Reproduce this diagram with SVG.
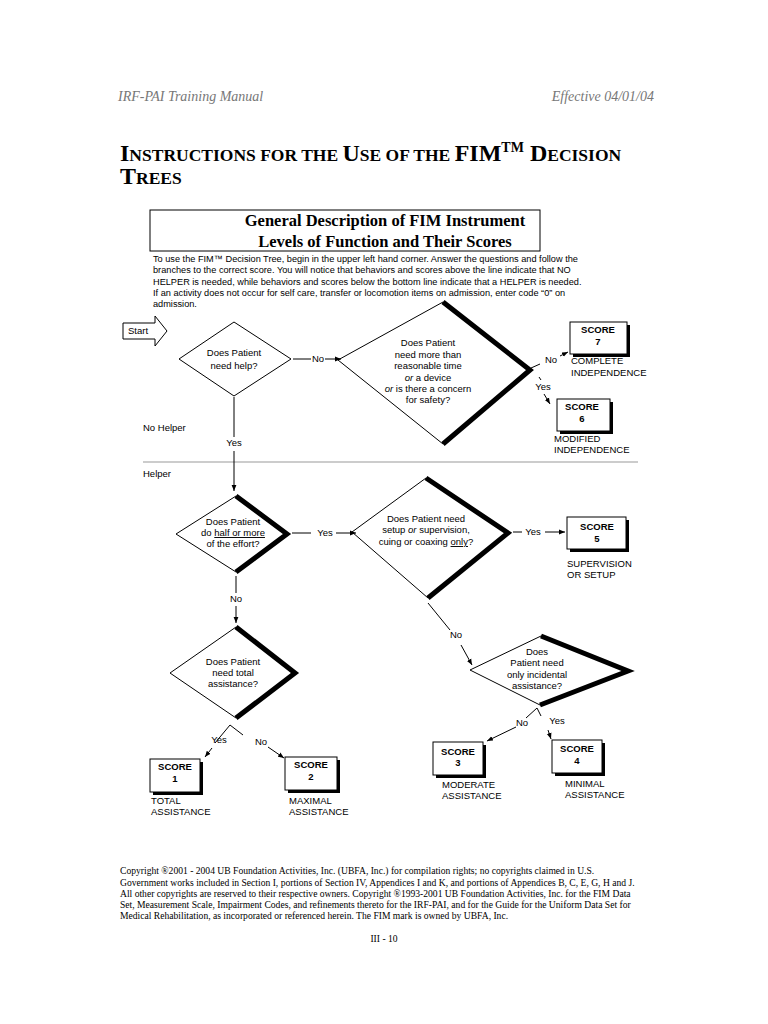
<svg xmlns="http://www.w3.org/2000/svg" width="768" height="1024" viewBox="0 0 768 1024">
<defs>
<marker id="ah" viewBox="0 0 10 10" refX="10" refY="5" markerWidth="6" markerHeight="6" orient="auto"><path d="M0,1 L10,5 L0,9 z" fill="#000"/></marker>
<style>
.s{font-family:"Liberation Sans",Arial,sans-serif;font-size:9.5px;fill:#000}
.c{text-anchor:middle}
.b{font-weight:bold}
.d{fill:#fff;stroke:#000;stroke-width:1}
.k{fill:none;stroke:#000;stroke-width:5}
.l{fill:none;stroke:#000;stroke-width:1}
.sh{fill:#000}
.bx{fill:#fff;stroke:#000;stroke-width:1}
.f{font-family:"Liberation Serif","Times New Roman",serif;font-size:9.6px;fill:#000}
.p{font-family:"Liberation Sans",Arial,sans-serif;font-size:9.2px;fill:#000}
</style>
</defs>
<rect width="768" height="1024" fill="#fff"/>
<text x="118" y="101" font-family="Liberation Serif,serif" font-style="italic" font-size="14" fill="#777">IRF-PAI Training Manual</text>
<text x="654" y="101" text-anchor="end" font-family="Liberation Serif,serif" font-style="italic" font-size="14" fill="#777">Effective 04/01/04</text>
<text x="120" y="161" font-family="Liberation Serif,serif" font-weight="bold" font-size="17.5"><tspan font-size="24">I</tspan>NSTRUCTIONS FOR THE <tspan font-size="24">U</tspan>SE OF THE <tspan font-size="24">FIM</tspan><tspan font-size="14" dy="-9">TM</tspan><tspan font-size="24" dy="9"> D</tspan>ECISION</text>
<text x="120" y="184" font-family="Liberation Serif,serif" font-weight="bold" font-size="17.5"><tspan font-size="24">T</tspan>REES</text>
<g id="header">
<rect x="150" y="210" width="390" height="41" fill="#fff" stroke="#000"/>
<text x="385" y="226" class="c" font-family="Liberation Serif,serif" font-weight="bold" font-size="16.5">General Description of FIM Instrument</text>
<text x="385" y="247" class="c" font-family="Liberation Serif,serif" font-weight="bold" font-size="16.5">Levels of Function and Their Scores</text>
<text class="p" x="153" y="262">To use the FIM™ Decision Tree, begin in the upper left hand corner.  Answer the questions and follow the</text>
<text class="p" x="153" y="273">branches to the correct score.  You will notice that behaviors and scores above the line indicate that NO</text>
<text class="p" x="153" y="285">HELPER is needed, while behaviors and scores below the bottom line indicate that a HELPER is needed.</text>
<text class="p" x="153" y="296">If an activity does not occur for self care, transfer or locomotion items on admission, enter code “0” on</text>
<text class="p" x="153" y="307">admission.</text>
</g>
<g id="start">
<path d="M123,323 H155 V316 L167,331 L155,346 V339 H123 Z" class="d"/>
<text class="s" x="138" y="334" font-size="8.5" text-anchor="middle">Start</text>
</g>
<line x1="143" y1="462" x2="638" y2="462" stroke="#999" stroke-width="1"/>
<text class="s" x="143" y="431" font-size="11.5">No Helper</text>
<text class="s" x="143" y="477" font-size="11.5">Helper</text>
<g id="q1">
<path d="M234,322 L291,359 L234,396 L179,359 Z" class="d"/>
<text class="s c" x="234" y="356">Does Patient</text>
<text class="s c" x="234" y="369">need help?</text>
</g>
<g id="q2">
<path d="M443,302 L530,370 L443,444 L338,360 Z" class="d"/>
<path d="M443,302 L530,370 L443,444" class="k"/>
<text class="s c" x="428" y="346">Does Patient</text>
<text class="s c" x="428" y="358">need more than</text>
<text class="s c" x="428" y="369">reasonable time</text>
<text class="s c" x="428" y="381"><tspan font-style="italic">or</tspan> a device</text>
<text class="s c" x="428" y="392"><tspan font-style="italic">or</tspan> is there a concern</text>
<text class="s c" x="428" y="403">for safety?</text>
</g>
<g id="q3">
<path d="M236,496 L287,534 L236,572 L176,534 Z" class="d"/>
<path d="M236,496 L287,534 L236,572" class="k" stroke-width="3"/>
<text class="s c" x="233" y="525">Does Patient</text>
<text class="s c" x="233" y="536">do <tspan text-decoration="underline">half or more</tspan></text>
<text class="s c" x="233" y="547">of the effort?</text>
</g>
<g id="q4">
<path d="M426,478 L508,533 L428,598 L352,532 Z" class="d"/>
<path d="M426,478 L508,533 L428,598" class="k" stroke-width="4"/>
<text class="s c" x="426" y="522">Does Patient need</text>
<text class="s c" x="426" y="533">setup <tspan font-style="italic">or</tspan> supervision,</text>
<text class="s c" x="426" y="545">cuing or coaxing <tspan text-decoration="underline">only</tspan>?</text>
</g>
<g id="q5">
<path d="M236,627 L295,673 L236,718 L170,673 Z" class="d"/>
<path d="M236,627 L295,673 L236,718" class="k" stroke-width="3.5"/>
<text class="s c" x="233" y="665">Does Patient</text>
<text class="s c" x="233" y="676">need total</text>
<text class="s c" x="233" y="687">assistance?</text>
</g>
<g id="q6">
<path d="M541,636 L628,671 L540,705 L470,670 Z" class="d"/>
<path d="M541,636 L628,671 L540,705" class="k" stroke-width="3.5"/>
<text class="s c" x="537" y="655">Does</text>
<text class="s c" x="537" y="666">Patient need</text>
<text class="s c" x="537" y="678">only incidental</text>
<text class="s c" x="537" y="689">assistance?</text>
</g>
<g id="s7"><rect x="573" y="325" width="57" height="32" class="sh"/><rect x="570" y="322" width="57" height="32" class="bx"/><text class="s c b" x="598" y="333">SCORE</text><text class="s c b" x="598" y="345">7</text>
<text class="s" x="571" y="364">COMPLETE</text><text class="s" x="571" y="376">INDEPENDENCE</text></g>
<g id="s6"><rect x="560" y="402" width="53" height="32" class="sh"/><rect x="557" y="399" width="53" height="32" class="bx"/><text class="s c b" x="582" y="410">SCORE</text><text class="s c b" x="582" y="422">6</text>
<text class="s" x="554" y="442">MODIFIED</text><text class="s" x="554" y="453">INDEPENDENCE</text></g>
<g id="s5"><rect x="570" y="520" width="59" height="32" class="sh"/><rect x="567" y="517" width="59" height="32" class="bx"/><text class="s c b" x="597" y="530">SCORE</text><text class="s c b" x="597" y="542">5</text>
<text class="s" x="567" y="567">SUPERVISION</text><text class="s" x="567" y="578">OR SETUP</text></g>
<g id="s1"><rect x="153" y="762" width="50" height="33" class="sh"/><rect x="150" y="759" width="50" height="33" class="bx"/><text class="s c b" x="175" y="770">SCORE</text><text class="s c b" x="175" y="782">1</text>
<text class="s" x="151" y="804">TOTAL</text><text class="s" x="151" y="815">ASSISTANCE</text></g>
<g id="s2"><rect x="288" y="760" width="52" height="33" class="sh"/><rect x="285" y="757" width="52" height="33" class="bx"/><text class="s c b" x="311" y="768">SCORE</text><text class="s c b" x="311" y="780">2</text>
<text class="s" x="289" y="804">MAXIMAL</text><text class="s" x="289" y="815">ASSISTANCE</text></g>
<g id="s3"><rect x="436" y="745" width="50" height="33" class="sh"/><rect x="433" y="742" width="50" height="33" class="bx"/><text class="s c b" x="458" y="755">SCORE</text><text class="s c b" x="458" y="766">3</text>
<text class="s" x="442" y="788">MODERATE</text><text class="s" x="442" y="799">ASSISTANCE</text></g>
<g id="s4"><rect x="555" y="743" width="50" height="33" class="sh"/><rect x="552" y="740" width="50" height="33" class="bx"/><text class="s c b" x="577" y="752">SCORE</text><text class="s c b" x="577" y="764">4</text>
<text class="s" x="565" y="787">MINIMAL</text><text class="s" x="565" y="798">ASSISTANCE</text></g>
<g id="connectors">
<line x1="293" y1="359" x2="311" y2="359" class="l"/><line x1="325" y1="359" x2="341" y2="359" class="l" marker-end="url(#ah)"/>
<text class="s c" x="318" y="362" font-size="8.5">No</text>
<line x1="531" y1="368" x2="540" y2="364" class="l"/><line x1="560" y1="356" x2="568" y2="352" class="l" marker-end="url(#ah)"/>
<text class="s c" x="551" y="363" font-size="8.5">No</text>
<line x1="539" y1="377" x2="541" y2="380" class="l"/><line x1="544" y1="394" x2="550" y2="404" class="l" marker-end="url(#ah)"/>
<text class="s c" x="543" y="390" font-size="8.5">Yes</text>
<line x1="234" y1="397" x2="234" y2="437" class="l"/><line x1="234" y1="451" x2="234" y2="491" class="l" marker-end="url(#ah)"/>
<text class="s c" x="234" y="446" font-size="8.5">Yes</text>
<line x1="292" y1="533" x2="311" y2="533" class="l"/><line x1="336" y1="533" x2="356" y2="533" class="l" marker-end="url(#ah)"/>
<text class="s c" x="325" y="536" font-size="8.5">Yes</text>
<line x1="513" y1="532" x2="522" y2="532" class="l"/><line x1="545" y1="532" x2="565" y2="532" class="l" marker-end="url(#ah)"/>
<text class="s c" x="533" y="535" font-size="8.5">Yes</text>
<line x1="236" y1="576" x2="236" y2="593" class="l"/><line x1="236" y1="606" x2="236" y2="623" class="l" marker-end="url(#ah)"/>
<text class="s c" x="236" y="602" font-size="8.5">No</text>
<line x1="428" y1="603" x2="450" y2="630" class="l"/><line x1="461" y1="645" x2="472" y2="665" class="l" marker-end="url(#ah)"/>
<text class="s c" x="456" y="638" font-size="8.5">No</text>
<path d="M215,743 L230,725 L243,735" class="l"/>
<line x1="212" y1="748" x2="205" y2="757" class="l" marker-end="url(#ah)"/>
<line x1="268" y1="747" x2="284" y2="758" class="l" marker-end="url(#ah)"/>
<text class="s c" x="219" y="743" font-size="8.5">Yes</text>
<text class="s c" x="261" y="745" font-size="8.5">No</text>
<path d="M526,718 L537,708 L541,716" class="l"/>
<line x1="516" y1="727" x2="487" y2="741" class="l" marker-end="url(#ah)"/>
<line x1="548" y1="730" x2="551" y2="739" class="l" marker-end="url(#ah)"/>
<text class="s c" x="522" y="726" font-size="8.5">No</text>
<text class="s c" x="557" y="724" font-size="8.5">Yes</text>
</g>
<text class="f" x="120" y="874">Copyright ®2001 - 2004 UB Foundation Activities, Inc. (UBFA, Inc.) for compilation rights; no copyrights claimed in U.S.</text>
<text class="f" x="120" y="886">Government works included in Section I, portions of Section IV, Appendices I and K, and portions of Appendices B, C, E, G, H and J.</text>
<text class="f" x="120" y="897">All other copyrights are reserved to their respective owners. Copyright ®1993-2001 UB Foundation Activities, Inc. for the FIM Data</text>
<text class="f" x="120" y="908">Set, Measurement Scale, Impairment Codes, and refinements thereto for the IRF-PAI, and for the Guide for the Uniform Data Set for</text>
<text class="f" x="120" y="919">Medical Rehabilitation, as incorporated or referenced herein. The FIM mark is owned by UBFA, Inc.</text>
<text class="f c" x="384" y="942">III - 10</text>
</svg>
